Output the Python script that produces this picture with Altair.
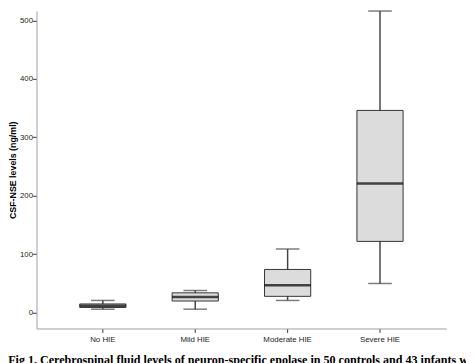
import altair as alt
import pandas as pd

categories = ["No HIE", "Mild HIE", "Moderate HIE", "Severe HIE"]
lower = [6, 6, 21, 50]
q1 = [9, 20, 28, 122]
median = [12, 27, 47, 221]
q3 = [15, 34, 74, 346]
upper = [21, 38, 109, 516]

caption = "Fig 1. Cerebrospinal fluid levels of neuron-specific enolase in 50 controls and 43 infants with HIE"

df = pd.DataFrame({
    "group": categories,
    "lower": lower,
    "q1": q1,
    "median": median,
    "q3": q3,
    "upper": upper,
})

x = alt.X(
    "group:N",
    sort=categories,
    scale=alt.Scale(paddingInner=0, paddingOuter=0.218),
    axis=alt.Axis(title=None, labelAngle=0, labelPadding=3),
)
yscale = alt.Scale(domain=[-27, 516], nice=False, zero=False)

base = alt.Chart(df)

whisker = base.mark_rule(color="#444444", strokeWidth=1.5).encode(
    x=x,
    y=alt.Y("lower:Q", scale=yscale,
            axis=alt.Axis(values=[0, 100, 200, 300, 400, 500],
                          title="CSF-NSE levels (ng/ml)", titlePadding=2.5,
                          labelPadding=0)),
    y2="upper:Q",
)
box = base.mark_bar(size=47, fill="#dcdcdc", stroke="#333333", strokeWidth=1).encode(
    x=x, y=alt.Y("q1:Q", scale=yscale), y2="q3:Q"
)
med = base.mark_tick(color="black", size=47, thickness=2.5).encode(
    x=x, y=alt.Y("median:Q", scale=yscale)
)
cap_hi = base.mark_tick(color="#444444", size=24, thickness=1.5).encode(
    x=x, y=alt.Y("upper:Q", scale=yscale)
)
cap_lo = base.mark_tick(color="#444444", size=24, thickness=1.5).encode(
    x=x, y=alt.Y("lower:Q", scale=yscale)
)

chart = (
    alt.layer(whisker, box, med, cap_hi, cap_lo)
    .properties(
        width=417,
        height=323,
        padding={"left": 29, "top": 0, "right": 20, "bottom": 32},
        autosize=alt.AutoSizeParams(type="none"),
        title=alt.TitleParams(
            text=caption, orient="bottom", anchor="start", frame="bounds",
            font="Liberation Serif", fontSize=12.3, fontWeight="bold",
            offset=11, color="black",
        ),
    )
    .configure_view(stroke=None)
    .configure_axis(
        grid=False,
        domainColor="#a0a0a0",
        domainWidth=1,
        tickColor="#333333",
        tickSize=4,
        labelFont="Liberation Sans",
        labelFontSize=8,
        labelColor="#222222",
        titleFont="Liberation Sans",
        titleFontSize=9,
        titleFontWeight="bold",
        titleColor="black",
    )
)

chart.save("out.html", embed_options={"renderer": "svg", "actions": False})
